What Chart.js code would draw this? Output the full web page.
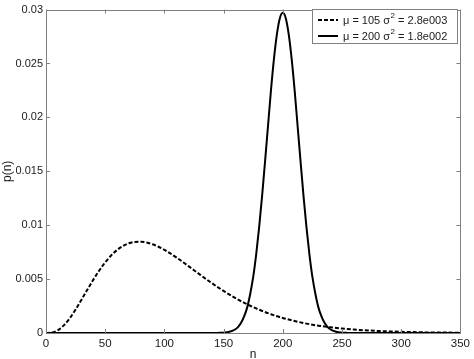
<!DOCTYPE html>
<html>
<head>
<meta charset="utf-8">
<script src="https://cdn.jsdelivr.net/npm/chart.js"></script>
<style>
  html, body { margin: 0; padding: 0; background: #fff; }
  #wrap { width: 474px; height: 359px; }
</style>
</head>
<body>
<div id="wrap"><canvas id="c"></canvas></div>
<script>
// dashed curve (mu = 105, sigma^2 = 2.8e003)
const nDashed = [0, 5, 10, 15, 20, 25, 30, 35, 40, 45, 50, 55, 60, 65, 70, 75, 80, 85, 90, 95, 100,
	110, 120, 130, 140, 150, 160, 170, 180, 190, 200, 210, 220, 230, 240, 250, 260, 280, 300, 325, 350];
const pDashed = [0, 0.00004, 0.00026, 0.00071, 0.00136, 0.00218, 0.00309, 0.00403, 0.00495, 0.0058,
	0.00655, 0.00719, 0.0077, 0.00807, 0.00832, 0.00845, 0.00847, 0.00839, 0.00823, 0.008, 0.00772,
	0.00702, 0.00623, 0.00542, 0.00463, 0.0039, 0.00324, 0.00266, 0.00216, 0.00174, 0.00139, 0.00111,
	0.00087, 0.00068, 0.00053, 0.00041, 0.00032, 0.00019, 0.00011, 0.00005, 0.00003];

// solid curve (mu = 200, sigma^2 = 1.8e002)
const nSolid = [0, 140, 145, 150, 155, 160, 162.5, 165, 167.5, 170, 172.5, 175, 177.5, 180, 182.5, 185,
	187.5, 190, 192.5, 195, 197.5, 200, 202.5, 205, 207.5, 210, 212.5, 215, 217.5, 220, 222.5, 225, 227.5,
	230, 232.5, 235, 237.5, 240, 245, 250, 255, 260, 350];
const pSolid = [0, 0, 0.00001, 0.00003, 0.00011, 0.00035, 0.0006, 0.00099, 0.00158, 0.0024, 0.00364,
	0.0052, 0.00728, 0.0098, 0.0127, 0.0159, 0.0192, 0.0225, 0.0254, 0.0277, 0.0292, 0.0297, 0.0292,
	0.0277, 0.0254, 0.0225, 0.0192, 0.0159, 0.0127, 0.0098, 0.00728, 0.0052, 0.00364, 0.0024, 0.00158,
	0.00099, 0.0006, 0.00035, 0.00011, 0.00003, 0.00001, 0, 0];

const xTicks = [0, 50, 100, 150, 200, 250, 300, 350];
const yTicks = [0, 0.005, 0.01, 0.015, 0.02, 0.025, 0.03];
const yTickLabels = ["0", "0.005", "0.01", "0.015", "0.02", "0.025", "0.03"];
const legendLabels = [
	["\u03bc = 105 \u03c3", "2", " = 2.8e003"],
	["\u03bc = 200 \u03c3", "2", " = 1.8e002"]
];

const FONT = "'Liberation Sans', Arial, sans-serif";
const AXIS_COLOR = "#808080";
const TEXT_COLOR = "#1a1a1a";

function toPoints(xs, ys) {
	return xs.map((x, i) => ({ x: x, y: ys[i] }));
}

// box round the axes and inward ticks on all four sides
const boxPlugin = {
	id: "box",
	afterDraw(chart) {
		const ctx = chart.ctx;
		const a = chart.chartArea;
		const xs = chart.scales.x;
		const ys = chart.scales.y;
		ctx.save();
		ctx.strokeStyle = AXIS_COLOR;
		ctx.lineWidth = 1;
		ctx.beginPath();
		xTicks.forEach((v) => {
			const px = Math.round(xs.getPixelForValue(v)) + 0.5;
			ctx.moveTo(px, a.bottom);
			ctx.lineTo(px, a.bottom - 4);
			ctx.moveTo(px, a.top);
			ctx.lineTo(px, a.top + 4);
		});
		yTicks.forEach((v) => {
			const py = Math.round(ys.getPixelForValue(v)) + 0.5;
			ctx.moveTo(a.left, py);
			ctx.lineTo(a.left + 4, py);
			ctx.moveTo(a.right, py);
			ctx.lineTo(a.right - 4, py);
		});
		ctx.stroke();
		ctx.strokeRect(Math.round(a.left) + 0.5, Math.round(a.top) + 0.5,
			Math.round(a.right - a.left), Math.round(a.bottom - a.top));
		ctx.restore();
	}
};

const legendPlugin = {
	id: "matlabLegend",
	afterDraw(chart) {
		const ctx = chart.ctx;
		const bx = 312, by = 9, bw = 145, bh = 34;
		ctx.save();
		ctx.fillStyle = "#fff";
		ctx.fillRect(bx, by, bw, bh);
		ctx.strokeStyle = AXIS_COLOR;
		ctx.lineWidth = 1;
		ctx.strokeRect(bx + 0.5, by + 0.5, bw, bh);
		chart.data.datasets.forEach((ds, i) => {
			const y = by + 11 + i * 16;
			ctx.strokeStyle = "#000";
			ctx.lineWidth = 2;
			ctx.setLineDash(ds.borderDash || []);
			ctx.beginPath();
			ctx.moveTo(bx + 6, y);
			ctx.lineTo(bx + 26, y);
			ctx.stroke();
			ctx.setLineDash([]);
			const parts = legendLabels[i];
			let x = bx + 31;
			ctx.fillStyle = TEXT_COLOR;
			ctx.textBaseline = "middle";
			ctx.textAlign = "left";
			ctx.font = "11px " + FONT;
			ctx.fillText(parts[0], x, y + 1);
			x += ctx.measureText(parts[0]).width;
			ctx.font = "8px " + FONT;
			ctx.fillText(parts[1], x + 0.5, y - 4);
			x += ctx.measureText(parts[1]).width + 0.5;
			ctx.font = "11px " + FONT;
			ctx.fillText(parts[2], x, y + 1);
		});
		ctx.restore();
	}
};

new Chart(document.getElementById("c"), {
	type: "line",
	data: {
		datasets: [
			{
				label: "mu = 105",
				data: toPoints(nDashed, pDashed),
				borderColor: "#000",
				borderWidth: 2,
				borderDash: [4, 2],
				pointRadius: 0,
				cubicInterpolationMode: "monotone",
				fill: false
			},
			{
				label: "mu = 200",
				data: toPoints(nSolid, pSolid),
				borderColor: "#000",
				borderWidth: 2,
				pointRadius: 0,
				cubicInterpolationMode: "monotone",
				fill: false
			}
		]
	},
	options: {
		responsive: true,
		maintainAspectRatio: false,
		animation: false,
		layout: { padding: { left: 0, right: 11, top: 5, bottom: 0 } },
		plugins: {
			legend: { display: false },
			tooltip: { enabled: false }
		},
		scales: {
			x: {
				type: "linear",
				min: 0,
				max: 350,
				afterBuildTicks(scale) {
					scale.ticks = xTicks.map((v) => ({ value: v }));
				},
				afterFit(scale) {
					scale.height = 26;
				},
				grid: { display: false, drawTicks: false },
				border: { display: false },
				ticks: {
					padding: 4,
					color: TEXT_COLOR,
					font: { family: FONT, size: 11.5 },
					maxRotation: 0,
					autoSkip: false
				},
				title: {
					display: true,
					text: "n",
					color: TEXT_COLOR,
					font: { family: FONT, size: 12 },
					padding: { top: 0, bottom: -3 }
				}
			},
			y: {
				type: "linear",
				min: 0,
				max: 0.03,
				afterBuildTicks(scale) {
					scale.ticks = yTicks.map((v) => ({ value: v }));
				},
				afterFit(scale) {
					scale.width = 46;
				},
				grid: { display: false, drawTicks: false },
				border: { display: false },
				ticks: {
					padding: 3,
					color: TEXT_COLOR,
					font: { family: FONT, size: 11 },
					autoSkip: false,
					callback: (v) => yTickLabels[yTicks.indexOf(v)] ?? ""
				},
				title: {
					display: true,
					text: "p(n)",
					color: TEXT_COLOR,
					font: { family: FONT, size: 12 },
					padding: { top: 0, bottom: 0 }
				}
			}
		}
	},
	plugins: [boxPlugin, legendPlugin]
});
</script>
</body>
</html>
